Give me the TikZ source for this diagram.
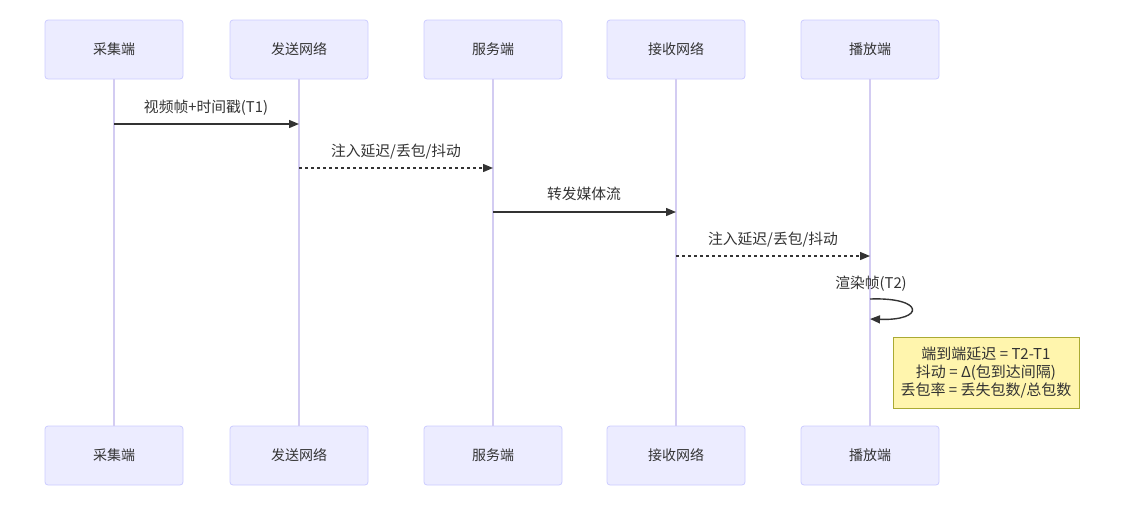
\documentclass[tikz,border=0pt]{standalone}
\usepackage{fontspec}
\setmainfont{Noto Sans CJK SC}
\usepackage{xcolor}
\usetikzlibrary{arrows.meta,positioning}
\definecolor{actorfill}{HTML}{ECECFF}
\definecolor{actorline}{HTML}{CCCCFF}
\definecolor{lifecol}{HTML}{D3CCF2}
\definecolor{msgcol}{HTML}{333333}
\definecolor{notefill}{HTML}{FFF5AD}
\definecolor{noteline}{HTML}{AAAA33}

\begin{document}
\begin{tikzpicture}[
  x=1pt, y=-1pt,
  every node/.style={font=\fontsize{14.8}{17}\selectfont, text=msgcol},
  actor/.style={draw=actorline, fill=actorfill, rounded corners=3pt, line width=0.8pt,
    minimum width=138pt, minimum height=59pt, inner sep=0pt, font=\fontsize{14}{17}\selectfont},
  lifeline/.style={draw=lifecol, line width=1.6pt},
  msg/.style={draw=msgcol, line width=1.4pt, -{Triangle[length=10pt, width=8pt]}},
  dotmsg/.style={msg, dash pattern=on 3pt off 3pt},
  msglabel/.style={anchor=base, inner sep=0pt},
  notebox/.style={draw=noteline, fill=notefill, line width=0.8pt, align=center,
    minimum width=186pt, minimum height=71pt, inner sep=2pt, font=\fontsize{15}{18}\selectfont}
]
  \useasboundingbox (0,0) rectangle (1125,507);

  % Participants, top and bottom, with lifelines between them
  \foreach \nm/\x/\txt in {cap/114/采集端, snet/299/发送网络, srv/493/服务端, rnet/676/接收网络, play/870/播放端}{
    \node[actor] (\nm top) at (\x,49.5) {\txt};
    \node[actor] (\nm bot) at (\x,455.5) {\txt};
    \draw[lifeline] (\nm top) -- (\nm bot);
  }

  % Message end points on the lifelines
  \coordinate (m1a) at (114,124); \coordinate (m1b) at (299,124);
  \coordinate (m2a) at (299,168); \coordinate (m2b) at (493,168);
  \coordinate (m3a) at (493,212); \coordinate (m3b) at (676,212);
  \coordinate (m4a) at (676,256); \coordinate (m4b) at (870,256);
  \coordinate (m5a) at (870,299); \coordinate (m5b) at (870,319);

  % Messages
  \draw[msg] (m1a) -- (m1b);
  \node[msglabel] (l1) at (206,112.5) {视频帧+时间戳(T1)};
  \draw[dotmsg] (m2a) -- (m2b);
  \node[msglabel] (l2) at (396,156) {注入延迟/丢包/抖动};
  \draw[msg] (m3a) -- (m3b);
  \node[msglabel] (l3) at (584,199.5) {转发媒体流};
  \draw[dotmsg] (m4a) -- (m4b);
  \node[msglabel] (l4) at (773,244) {注入延迟/丢包/抖动};

  % Self message on the player
  \draw[msg] (m5a) .. controls (925,297) and (925,321) .. (m5b);
  \node[msglabel] (l5) at (871,288.5) {渲染帧(T2)};

  % Note
  \node[notebox] (note) at (986,372.5)
    {端到端延迟 = T2-T1\\抖动 = Δ(包到达间隔)\\丢包率 = 丢失包数/总包数};
\end{tikzpicture}
\end{document}
